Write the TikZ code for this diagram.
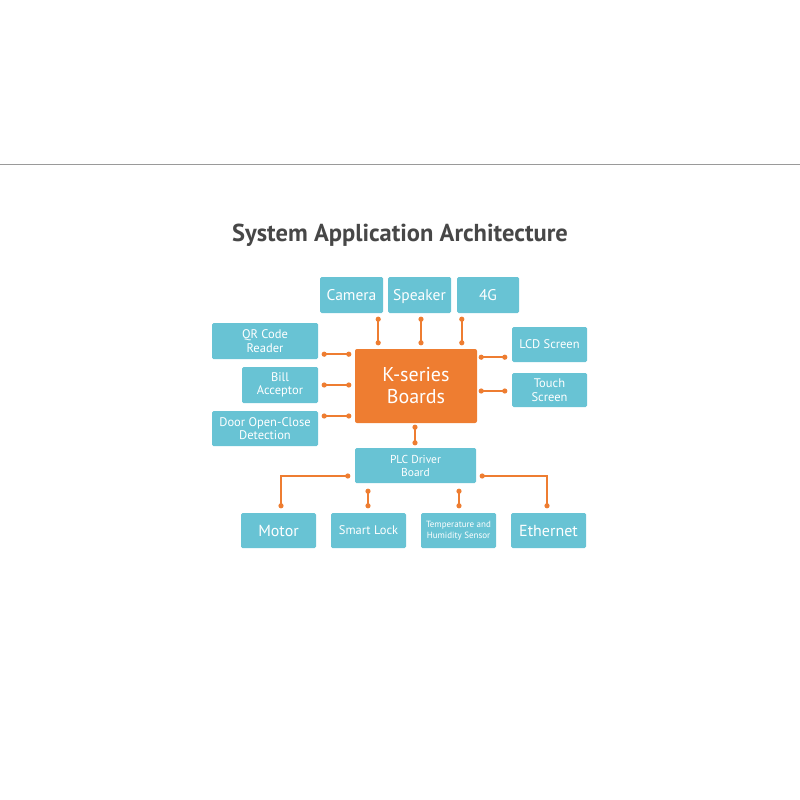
\documentclass[tikz,border=0pt]{standalone}
\usepackage{fontspec}
\setmainfont{PT Sans}
\usetikzlibrary{decorations.markings}
\definecolor{boxc}{HTML}{68C3D4}
\definecolor{orangec}{HTML}{EE7D31}
\definecolor{titlec}{HTML}{474747}
\definecolor{rulec}{HTML}{9A9A9A}
\tikzset{
  bx/.style={fill=boxc, draw=none, rounded corners=1.5pt, text=white, align=center, inner sep=0pt, font=\fontsize{12.5}{13.5}\selectfont},
  one/.style={text depth=0pt},
  kbox/.style={fill=orangec, draw=none, rounded corners=2pt, text=white, align=center, inner sep=0pt, font=\fontsize{20}{22}\selectfont},
  conn/.style={draw=orangec, line width=1.7pt,
    decoration={markings,
      mark=at position 0 with {\fill[orangec] (0,0) circle (2.6pt);},
      mark=at position 1 with {\fill[orangec] (0,0) circle (2.6pt);}},
    postaction={decorate}},
}
\begin{document}
\begin{tikzpicture}[x=1pt,y=-1pt]
\useasboundingbox (0,0) rectangle (800,800);
\draw[rulec, line width=1pt] (0,164) -- (800,164);
\node[text=titlec, font=\bfseries\fontsize{24.5}{26}\selectfont] (title) at (400,235) {System Application Architecture};

\node[bx, one, minimum width=63pt, minimum height=36pt, font=\fontsize{15.5}{17}\selectfont] (cam) at (351.5,295) {Camera};
\node[bx, one, minimum width=63pt, minimum height=36pt, font=\fontsize{15.5}{17}\selectfont] (spk) at (419.5,295) {Speaker};
\node[bx, one, minimum width=62pt, minimum height=36pt, font=\fontsize{15.5}{17}\selectfont] (g4) at (488,295) {4G};
\node[bx, minimum width=106pt, minimum height=36pt] (qr) at (265,341) {QR Code\\Reader};
\node[bx, minimum width=76pt, minimum height=36pt] (bill) at (280,385) {Bill\\Acceptor};
\node[bx, minimum width=106pt, minimum height=35pt] (door) at (265,428.5) {Door Open-Close\\Detection};
\node[kbox, minimum width=122pt, minimum height=74pt] (k) at (416,386) {K-series\\Boards};
\node[bx, one, minimum width=75pt, minimum height=35pt] (lcd) at (549.5,344.5) {LCD Screen};
\node[bx, minimum width=75pt, minimum height=34pt] (touch) at (549.5,390) {Touch\\Screen};
\node[bx, minimum width=121pt, minimum height=35pt, font=\fontsize{11.5}{13}\selectfont] (plc) at (415.5,465.5) {PLC Driver\\Board};
\node[bx, one, minimum width=75pt, minimum height=35pt, font=\fontsize{16}{17}\selectfont] (motor) at (278.5,530.5) {Motor};
\node[bx, one, minimum width=75pt, minimum height=35pt] (lock) at (368.5,530.5) {Smart Lock};
\node[bx, minimum width=75pt, minimum height=35pt, font=\fontsize{9}{11}\selectfont] (temp) at (458.5,530.5) {Temperature and\\Humidity Sensor};
\node[bx, one, minimum width=75pt, minimum height=35pt, font=\fontsize{16}{17}\selectfont] (eth) at (548.5,530.5) {Ethernet};

% top connectors
\draw[conn] ([shift={(-5,6)}]cam.south east) -- ([shift={(-5,-6)}]cam.south east |- k.north);
\draw[conn] ([shift={(1.5,6)}]spk.south) -- ([shift={(1.5,-6)}]spk.south |- k.north);
\draw[conn] ([shift={(5,6)}]g4.south west) -- ([shift={(5,-6)}]g4.south west |- k.north);
% left connectors
\draw[conn] ([shift={(6,-5)}]qr.south east) -- ([shift={(-6,-5)}]k.west |- qr.south east);
\draw[conn] ([xshift=6]bill.east) -- ([xshift=-6]k.west |- bill.east);
\draw[conn] ([shift={(6,-12.5)}]door.east) -- ([shift={(-6,-12.5)}]k.west |- door.east);
% right connectors
\draw[conn] ([shift={(4,-5)}]k.east |- lcd.south west) -- ([shift={(-7,-5)}]lcd.south west);
\draw[conn] ([shift={(4,1)}]k.east |- touch.west) -- ([shift={(-7,1)}]touch.west);
% K to PLC
\draw[conn] ([shift={(-1,4)}]k.south) -- ([shift={(-1,-5)}]k.south |- plc.north);
% PLC branches
\draw[conn] ([shift={(-7,10.5)}]plc.west) -| ([shift={(2.5,-7)}]motor.north);
\draw[conn] ([shift={(6,10.5)}]plc.east) -| ([shift={(-1.5,-7)}]eth.north);
\draw[conn] ([shift={(-0.5,8)}]lock.north |- plc.south) -- ([shift={(-0.5,-7)}]lock.north);
\draw[conn] ([shift={(0.5,8)}]temp.north |- plc.south) -- ([shift={(0.5,-7)}]temp.north);
\end{tikzpicture}
\end{document}
